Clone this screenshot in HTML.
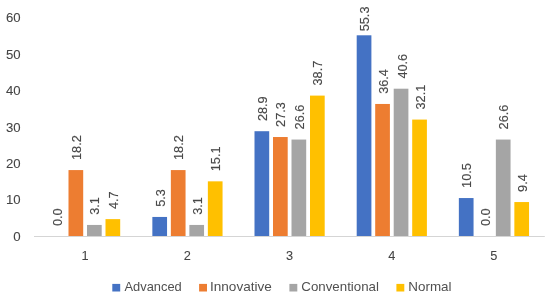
<!DOCTYPE html><html><head><meta charset="utf-8"><title>chart</title><style>html,body{margin:0;padding:0;background:#fff;overflow:hidden}svg{display:block}text{font-family:"Liberation Sans",sans-serif;fill:#444;stroke:#444;stroke-width:0.07px}.l{fill:#505050;stroke:none}.r{fill:#484848;stroke:#484848;stroke-width:0.15px}</style></head><body>
<svg width="550" height="298" viewBox="0 0 550 298">
<rect width="550" height="298" fill="#fff"/>
<text x="13.20" y="240.80" font-size="12.75" textLength="7.4" lengthAdjust="spacingAndGlyphs">0</text>
<text x="5.95" y="204.39" font-size="12.75" textLength="14.65" lengthAdjust="spacingAndGlyphs">10</text>
<text x="5.95" y="167.98" font-size="12.75" textLength="14.65" lengthAdjust="spacingAndGlyphs">20</text>
<text x="5.95" y="131.57" font-size="12.75" textLength="14.65" lengthAdjust="spacingAndGlyphs">30</text>
<text x="5.95" y="95.16" font-size="12.75" textLength="14.65" lengthAdjust="spacingAndGlyphs">40</text>
<text x="5.95" y="58.75" font-size="12.75" textLength="14.65" lengthAdjust="spacingAndGlyphs">50</text>
<text x="5.95" y="22.34" font-size="12.75" textLength="14.65" lengthAdjust="spacingAndGlyphs">60</text>
<text class="r" transform="translate(62.20,226.10) rotate(-90)" font-size="12.25" textLength="17.72" lengthAdjust="spacingAndGlyphs">0.0</text>
<rect x="68.50" y="170.08" width="14.7" height="65.92" fill="#ED7D31"/>
<text class="r" transform="translate(80.70,159.98) rotate(-90)" font-size="12.25" textLength="24.8" lengthAdjust="spacingAndGlyphs">18.2</text>
<rect x="87.00" y="224.94" width="14.7" height="11.06" fill="#A5A5A5"/>
<text class="r" transform="translate(99.20,214.84) rotate(-90)" font-size="12.25" textLength="17.72" lengthAdjust="spacingAndGlyphs">3.1</text>
<rect x="105.50" y="219.12" width="14.7" height="16.88" fill="#FFC000"/>
<text class="r" transform="translate(117.70,209.02) rotate(-90)" font-size="12.25" textLength="17.72" lengthAdjust="spacingAndGlyphs">4.7</text>
<text x="85.1" y="259.7" font-size="12.75" text-anchor="middle">1</text>
<rect x="152.35" y="216.95" width="14.7" height="19.05" fill="#4472C4"/>
<text class="r" transform="translate(164.55,206.85) rotate(-90)" font-size="12.25" textLength="17.72" lengthAdjust="spacingAndGlyphs">5.3</text>
<rect x="170.85" y="170.08" width="14.7" height="65.92" fill="#ED7D31"/>
<text class="r" transform="translate(183.05,159.98) rotate(-90)" font-size="12.25" textLength="24.8" lengthAdjust="spacingAndGlyphs">18.2</text>
<rect x="189.35" y="224.94" width="14.7" height="11.06" fill="#A5A5A5"/>
<text class="r" transform="translate(201.55,214.84) rotate(-90)" font-size="12.25" textLength="17.72" lengthAdjust="spacingAndGlyphs">3.1</text>
<rect x="207.85" y="181.34" width="14.7" height="54.66" fill="#FFC000"/>
<text class="r" transform="translate(220.05,171.24) rotate(-90)" font-size="12.25" textLength="24.8" lengthAdjust="spacingAndGlyphs">15.1</text>
<text x="187.4" y="259.7" font-size="12.75" text-anchor="middle">2</text>
<rect x="254.50" y="131.21" width="14.7" height="104.79" fill="#4472C4"/>
<text class="r" transform="translate(266.70,121.11) rotate(-90)" font-size="12.25" textLength="24.8" lengthAdjust="spacingAndGlyphs">28.9</text>
<rect x="273.00" y="137.02" width="14.7" height="98.98" fill="#ED7D31"/>
<text class="r" transform="translate(285.20,126.92) rotate(-90)" font-size="12.25" textLength="24.8" lengthAdjust="spacingAndGlyphs">27.3</text>
<rect x="291.50" y="139.56" width="14.7" height="96.44" fill="#A5A5A5"/>
<text class="r" transform="translate(303.70,129.46) rotate(-90)" font-size="12.25" textLength="24.8" lengthAdjust="spacingAndGlyphs">26.6</text>
<rect x="310.00" y="95.60" width="14.7" height="140.40" fill="#FFC000"/>
<text class="r" transform="translate(322.20,85.50) rotate(-90)" font-size="12.25" textLength="24.8" lengthAdjust="spacingAndGlyphs">38.7</text>
<text x="289.6" y="259.7" font-size="12.75" text-anchor="middle">3</text>
<rect x="356.70" y="35.30" width="14.7" height="200.70" fill="#4472C4"/>
<text class="r" transform="translate(368.75,31.30) rotate(-90)" font-size="12.25" textLength="24.8" lengthAdjust="spacingAndGlyphs">55.3</text>
<rect x="375.20" y="103.96" width="14.7" height="132.04" fill="#ED7D31"/>
<text class="r" transform="translate(388.10,93.86) rotate(-90)" font-size="12.25" textLength="24.8" lengthAdjust="spacingAndGlyphs">36.4</text>
<rect x="393.70" y="88.70" width="14.7" height="147.30" fill="#A5A5A5"/>
<text class="r" transform="translate(406.60,78.60) rotate(-90)" font-size="12.25" textLength="24.8" lengthAdjust="spacingAndGlyphs">40.6</text>
<rect x="412.20" y="119.58" width="14.7" height="116.42" fill="#FFC000"/>
<text class="r" transform="translate(424.65,109.48) rotate(-90)" font-size="12.25" textLength="24.8" lengthAdjust="spacingAndGlyphs">32.1</text>
<text x="391.8" y="259.7" font-size="12.75" text-anchor="middle">4</text>
<rect x="458.85" y="198.05" width="14.7" height="37.95" fill="#4472C4"/>
<text class="r" transform="translate(471.05,187.95) rotate(-90)" font-size="12.25" textLength="24.8" lengthAdjust="spacingAndGlyphs">10.5</text>
<text class="r" transform="translate(489.55,226.10) rotate(-90)" font-size="12.25" textLength="17.72" lengthAdjust="spacingAndGlyphs">0.0</text>
<rect x="495.85" y="139.56" width="14.7" height="96.44" fill="#A5A5A5"/>
<text class="r" transform="translate(508.05,129.46) rotate(-90)" font-size="12.25" textLength="24.8" lengthAdjust="spacingAndGlyphs">26.6</text>
<rect x="514.35" y="202.05" width="14.7" height="33.95" fill="#FFC000"/>
<text class="r" transform="translate(527.25,191.95) rotate(-90)" font-size="12.25" textLength="17.72" lengthAdjust="spacingAndGlyphs">9.4</text>
<text x="493.9" y="259.7" font-size="12.75" text-anchor="middle">5</text>
<rect x="34.0" y="236" width="510.8" height="1" fill="#D5D5D5"/>
<rect x="112.3" y="283.9" width="7.9" height="7.6" fill="#4472C4"/>
<text class="l" x="124.5" y="291.45" font-size="12.2" textLength="57.3" lengthAdjust="spacingAndGlyphs">Advanced</text>
<rect x="199.1" y="283.9" width="7.9" height="7.6" fill="#ED7D31"/>
<text class="l" x="210.0" y="291.45" font-size="12.2" textLength="61.9" lengthAdjust="spacingAndGlyphs">Innovative</text>
<rect x="289.4" y="283.9" width="7.9" height="7.6" fill="#A5A5A5"/>
<text class="l" x="301.3" y="291.45" font-size="12.2" textLength="77.7" lengthAdjust="spacingAndGlyphs">Conventional</text>
<rect x="396.4" y="283.9" width="7.9" height="7.6" fill="#FFC000"/>
<text class="l" x="408.3" y="291.45" font-size="12.2" textLength="43.2" lengthAdjust="spacingAndGlyphs">Normal</text>
</svg></body></html>
